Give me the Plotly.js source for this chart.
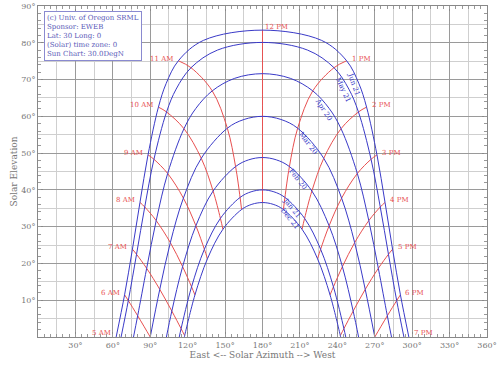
<!DOCTYPE html>
<html><head><meta charset="utf-8">
<script src="https://cdn.plot.ly/plotly-3.0.1.min.js"></script>
<style>html,body{margin:0;padding:0;background:#fff}</style>
</head><body><div id="chart" style="width:500px;height:367px"></div>
<script>
// ---------- DATA (lat 30N) ----------
const dateNames = ['Jun 21','May 21','Apr 20','Mar 20','Feb 20','Jan 21','Dec 21'];

const jun21Az  = [62.66, 69.42, 75.71, 81.76, 88.22, 96.56, 102.73, 112.55, 132.65, 180, 227.35, 247.45, 257.27, 263.44, 271.78, 278.24, 284.29, 290.58, 297.34];
const jun21Alt = [0, 11.47, 23.87, 36.60, 49.53, 62.51, 68.91, 75.11, 80.65, 83.44, 80.65, 75.11, 68.91, 62.51, 49.53, 36.60, 23.87, 11.47, 0];

const may21Az  = [66.62, 72.41, 79.01, 85.58, 92.96, 103.07, 110.75, 122.68, 143.86, 180, 216.14, 237.32, 249.25, 256.93, 267.04, 274.42, 280.99, 287.59, 293.38];
const may21Alt = [0, 9.90, 22.48, 35.35, 48.32, 61.18, 67.40, 73.22, 78.01, 80.10, 78.01, 73.22, 67.40, 61.18, 48.32, 35.35, 22.48, 9.90, 0];

const apr20Az  = [76.57, 79.92, 87.13, 94.77, 103.96, 117.04, 126.60, 139.70, 157.68, 180, 202.32, 220.30, 233.40, 242.96, 256.04, 265.23, 272.87, 280.08, 283.43];
const apr20Alt = [0, 5.77, 18.67, 31.65, 44.46, 56.64, 62.17, 66.92, 70.33, 71.60, 70.33, 66.92, 62.17, 56.64, 44.46, 31.65, 18.67, 5.77, 0];

const mar20Az  = [90, 97.63, 106.10, 116.57, 130.89, 151.81, 165.25, 180, 194.75, 208.19, 229.11, 243.43, 253.90, 262.37, 270];
const mar20Alt = [0, 12.95, 25.66, 37.76, 48.59, 56.77, 59.15, 60.00, 59.15, 56.77, 48.59, 37.76, 25.66, 12.95, 0];

const feb20Az  = [102.96, 107.30, 115.95, 126.59, 140.40, 158.42, 168.93, 180, 191.07, 201.58, 219.60, 233.41, 244.05, 252.70, 257.04];
const feb20Alt = [0, 7.05, 19.13, 30.24, 39.69, 46.34, 48.17, 48.80, 48.17, 46.34, 39.69, 30.24, 19.13, 7.05, 0];

const jan21Az  = [113.26, 114.72, 123.13, 133.40, 146.25, 162.03, 170.86, 180, 189.14, 197.97, 213.75, 226.60, 236.87, 245.28, 246.74];
const jan21Alt = [0, 2.27, 13.64, 23.86, 32.26, 37.95, 39.48, 40.00, 39.48, 37.95, 32.26, 23.86, 13.64, 2.27, 0];

const dec21Az  = [117.34, 117.60, 125.84, 135.88, 148.27, 163.22, 171.48, 180, 188.52, 196.78, 211.73, 224.12, 234.16, 242.40, 242.66];
const dec21Alt = [0, 0.39, 11.44, 21.28, 29.29, 34.66, 36.08, 36.56, 36.08, 34.66, 29.29, 21.28, 11.44, 0.39, 0];

// hour lines, points ordered Jun 21 -> Dec 21
const hourNames = ['5 AM','6 AM','7 AM','8 AM','9 AM','10 AM','11 AM','12 PM','1 PM','2 PM','3 PM','4 PM','5 PM','6 PM','7 PM'];
const h05Az = [62.40, 65.20];                                      const h05Alt = [-0.39, -2.21];
const h06Az = [69.42, 72.41, 79.92, 90.00, 99.73];                 const h06Alt = [11.47, 9.90, 5.77, 0, -5.57];
const h07Az = [75.71, 79.01, 87.13, 97.63, 107.30, 114.72, 117.60]; const h07Alt = [23.87, 22.48, 18.67, 12.95, 7.05, 2.27, 0.39];
const h08Az = [81.76, 85.58, 94.77, 106.10, 115.95, 123.13, 125.84]; const h08Alt = [36.60, 35.35, 31.65, 25.66, 19.13, 13.64, 11.44];
const h09Az = [88.22, 92.96, 103.96, 116.57, 126.59, 133.40, 135.88]; const h09Alt = [49.53, 48.32, 44.46, 37.76, 30.24, 23.86, 21.28];
const h10Az = [96.56, 103.07, 117.04, 130.89, 140.40, 146.25, 148.27]; const h10Alt = [62.51, 61.18, 56.64, 48.59, 39.69, 32.26, 29.29];
const h11Az = [112.55, 122.68, 139.70, 151.81, 158.42, 162.03, 163.22]; const h11Alt = [75.11, 73.22, 66.92, 56.77, 46.34, 37.95, 34.66];
const h12Az = [180, 180, 180, 180, 180, 180, 180];                 const h12Alt = [83.44, 80.10, 71.60, 60.00, 48.80, 40.00, 36.56];
const h13Az = [247.45, 237.32, 220.30, 208.19, 201.58, 197.97, 196.78]; const h13Alt = [75.11, 73.22, 66.92, 56.77, 46.34, 37.95, 34.66];
const h14Az = [263.44, 256.93, 242.96, 229.11, 219.60, 213.75, 211.73]; const h14Alt = [62.51, 61.18, 56.64, 48.59, 39.69, 32.26, 29.29];
const h15Az = [271.78, 267.04, 256.04, 243.43, 233.41, 226.60, 224.12]; const h15Alt = [49.53, 48.32, 44.46, 37.76, 30.24, 23.86, 21.28];
const h16Az = [278.24, 274.42, 265.23, 253.90, 244.05, 236.87, 234.16]; const h16Alt = [36.60, 35.35, 31.65, 25.66, 19.13, 13.64, 11.44];
const h17Az = [284.29, 280.99, 272.87, 262.37, 252.70, 245.28, 242.40]; const h17Alt = [23.87, 22.48, 18.67, 12.95, 7.05, 2.27, 0.39];
const h18Az = [290.58, 287.59, 280.08, 270.00, 260.27];            const h18Alt = [11.47, 9.90, 5.77, 0, -5.57];
const h19Az = [297.60, 294.80];                                    const h19Alt = [-0.39, -2.21];

const xTickVals = [30, 60, 90, 120, 150, 180, 210, 240, 270, 300, 330, 360];
const xTickText = ['30°','60°','90°','120°','150°','180°','210°','240°','270°','300°','330°','360°'];
const yTickVals = [10, 20, 30, 40, 50, 60, 70, 80, 90];
const yTickText = ['10°','20°','30°','40°','50°','60°','70°','80°','90°'];
const infoLines = ['(c) Univ. of Oregon SRML','Sponsor: EWEB','Lat: 30 Long: 0','(Solar) time zone: 0','Sun Chart: 30.0DegN'];
const xTitle = 'East &lt;-- Solar Azimuth --&gt; West';
const yTitle = 'Solar Elevation';

// ---------- DRAWING ----------
const BLUE = '#3a3ac8', RED = '#e85050', SERIF = 'DejaVu Serif';
const M = {l: 38, r: 13, t: 6, b: 30};
const W = 500, H = 367;
const pxX = (W - M.l - M.r) / 360, pxY = (H - M.t - M.b) / 90;

const dateAz  = [jun21Az, may21Az, apr20Az, mar20Az, feb20Az, jan21Az, dec21Az];
const dateAlt = [jun21Alt, may21Alt, apr20Alt, mar20Alt, feb20Alt, jan21Alt, dec21Alt];
const hourAz  = [h05Az,h06Az,h07Az,h08Az,h09Az,h10Az,h11Az,h12Az,h13Az,h14Az,h15Az,h16Az,h17Az,h18Az,h19Az];
const hourAlt = [h05Alt,h06Alt,h07Alt,h08Alt,h09Alt,h10Alt,h11Alt,h12Alt,h13Alt,h14Alt,h15Alt,h16Alt,h17Alt,h18Alt,h19Alt];

const traces = [];
hourAz.forEach((az, i) => traces.push({
  x: az, y: hourAlt[i], type: 'scatter', mode: 'lines', hoverinfo: 'skip', showlegend: false,
  line: {color: RED, width: 1, shape: 'spline', smoothing: 1}
}));
dateAz.forEach((az, i) => traces.push({
  x: az, y: dateAlt[i], type: 'scatter', mode: 'lines', hoverinfo: 'skip', showlegend: false,
  line: {color: BLUE, width: 1, shape: 'spline', smoothing: 1}
}));
traces.push({x: [], y: [], xaxis: 'x2', yaxis: 'y2', type: 'scatter', showlegend: false, hoverinfo: 'skip'});

const annotations = [];
hourNames.forEach((name, i) => {
  const az = hourAz[i][0], alt = Math.max(hourAlt[i][0], 0.05);
  const edge = (name === '5 AM' || name === '7 PM');
  let a = {x: az, y: alt, xref: 'x', yref: 'y', text: name, showarrow: false,
           font: {family: SERIF, size: 7, color: RED}, yanchor: 'middle', yshift: edge ? 4 : 2};
  if (name === '12 PM') { a.xanchor = 'left'; a.xshift = 0; a.yshift = 3; }
  else if (name.endsWith('AM')) { a.xanchor = 'right'; a.xshift = -3; }
  else { a.xanchor = 'left'; a.xshift = 3; }
  annotations.push(a);
});
// date labels, placed on the 1 PM - 2 PM chord of each curve
dateNames.forEach((name, i) => {
  const x = (h13Az[i] + h14Az[i]) / 2, y = (h13Alt[i] + h14Alt[i]) / 2;
  const ang = Math.atan2((h13Alt[i] - h14Alt[i]) * pxY, (h14Az[i] - h13Az[i]) * pxX) * 180 / Math.PI;
  annotations.push({x: x, y: y, xref: 'x', yref: 'y', text: name, showarrow: false, textangle: ang + 4,
    xshift: -3, font: {family: SERIF, size: 7, color: BLUE}});
});
annotations.push({
  xref: 'paper', yref: 'paper', x: 0.013, y: 0.985, xanchor: 'left', yanchor: 'top', align: 'left',
  showarrow: false, text: infoLines.join('<br>'), bordercolor: '#8a8ad0', borderwidth: 1, borderpad: 2,
  bgcolor: '#ffffff', font: {family: SERIF, size: 7, color: '#5a5ab8'}
});

const axisFont = {family: SERIF, size: 8, color: '#777'};
const layout = {
  width: W, height: H, margin: M, paper_bgcolor: '#fff', plot_bgcolor: '#fff', showlegend: false,
  xaxis: {
    range: [0, 360], tickmode: 'array', tickvals: xTickVals, ticktext: xTickText,
    showgrid: true, gridcolor: '#9a9a9a', gridwidth: 1, zeroline: false,
    minor: {dtick: 15, tick0: 0, showgrid: true, gridcolor: '#cfcfcf', gridwidth: 1},
    ticks: 'inside', ticklen: 5, tickcolor: '#888', showline: true, linecolor: '#888', linewidth: 1, mirror: 'ticks',
    tickfont: axisFont, title: {text: xTitle, font: {family: SERIF, size: 9, color: '#777'}, standoff: 3},
    fixedrange: true
  },
  yaxis: {
    range: [0, 90], tickmode: 'array', tickvals: yTickVals, ticktext: yTickText,
    showgrid: true, gridcolor: '#9a9a9a', gridwidth: 1, zeroline: false,
    minor: {dtick: 5, tick0: 0, showgrid: true, gridcolor: '#cfcfcf', gridwidth: 1},
    ticks: 'inside', ticklen: 5, tickcolor: '#888', showline: true, linecolor: '#888', linewidth: 1, mirror: 'ticks',
    tickfont: axisFont, title: {text: yTitle, font: {family: SERIF, size: 9, color: '#777'}, standoff: 2},
    fixedrange: true
  },
  xaxis2: {overlaying: 'x', anchor: 'y2', range: [0, 360], tickmode: 'linear', tick0: 0, dtick: 5,
    ticks: 'inside', ticklen: 3, tickcolor: '#999', showticklabels: false, showgrid: false, zeroline: false,
    showline: false, mirror: 'allticks', fixedrange: true},
  yaxis2: {overlaying: 'y', anchor: 'x2', range: [0, 90], tickmode: 'linear', tick0: 0, dtick: 2,
    ticks: 'inside', ticklen: 3, tickcolor: '#999', showticklabels: false, showgrid: false, zeroline: false,
    showline: false, mirror: 'allticks', fixedrange: true},
  annotations: annotations
};
Plotly.newPlot('chart', traces, layout, {staticPlot: true, displayModeBar: false});
</script></body></html>
